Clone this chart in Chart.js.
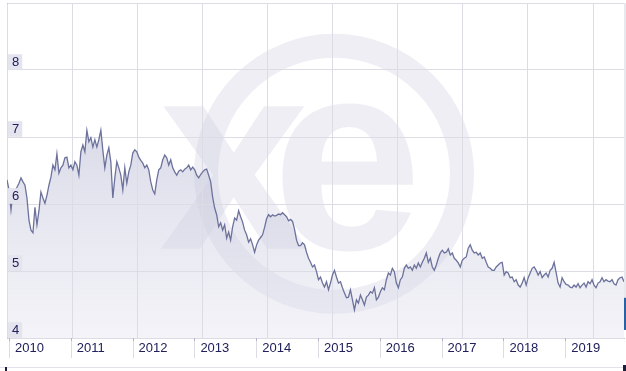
<!DOCTYPE html>
<html>
<head>
<meta charset="utf-8">
<script src="https://cdn.jsdelivr.net/npm/chart.js@4.4.1/dist/chart.umd.min.js"></script>
<style>
  html, body { margin: 0; padding: 0; background: #fff; }
  #wrap { width: 626px; height: 371px; position: relative; }
</style>
</head>
<body>
<div id="wrap"><canvas id="rateChart"></canvas></div>
<script>
// rate samples, roughly every 12 days from mid Dec 2009 to mid Dec 2019
const rates = [
    6.36, 6.21, 5.91, 6.18, 6.20, 6.25, 6.31, 6.39, 6.33, 6.28,
    6.09, 5.76, 5.61, 5.57, 5.95, 5.69, 5.90, 6.18, 6.09, 6.01,
    6.13, 6.28, 6.40, 6.58, 6.51, 6.75, 6.46, 6.54, 6.58, 6.69,
    6.70, 6.54, 6.58, 6.51, 6.63, 6.58, 6.43, 6.78, 6.88, 6.78,
    7.10, 6.93, 6.99, 6.85, 6.96, 6.85, 6.96, 7.10, 6.80, 6.54,
    6.73, 6.84, 6.63, 6.09, 6.39, 6.63, 6.54, 6.43, 6.21, 6.54,
    6.31, 6.48, 6.58, 6.76, 6.81, 6.78, 6.70, 6.65, 6.61, 6.54,
    6.58, 6.51, 6.33, 6.21, 6.15, 6.36, 6.51, 6.54, 6.66, 6.73,
    6.69, 6.58, 6.66, 6.54, 6.48, 6.43, 6.49, 6.51, 6.48, 6.52,
    6.54, 6.58, 6.51, 6.55, 6.51, 6.43, 6.39, 6.44, 6.48, 6.51,
    6.52, 6.43, 6.33, 6.10, 5.94, 5.84, 5.66, 5.72, 5.61, 5.69,
    5.49, 5.58, 5.46, 5.66, 5.79, 5.76, 5.90, 5.81, 5.73, 5.61,
    5.54, 5.43, 5.48, 5.39, 5.28, 5.39, 5.46, 5.50, 5.54, 5.65,
    5.78, 5.84, 5.81, 5.84, 5.82, 5.83, 5.85, 5.84, 5.87, 5.84,
    5.81, 5.75, 5.77, 5.74, 5.62, 5.46, 5.38, 5.38, 5.42, 5.39,
    5.28, 5.19, 5.13, 5.06, 5.09, 4.99, 4.87, 4.91, 4.82, 4.76,
    4.84, 4.72, 4.82, 4.94, 5.01, 4.91, 4.82, 4.84, 4.75, 4.67,
    4.60, 4.61, 4.72, 4.57, 4.42, 4.57, 4.52, 4.64, 4.57, 4.49,
    4.61, 4.64, 4.69, 4.67, 4.75, 4.57, 4.61, 4.69, 4.75, 4.72,
    4.87, 4.97, 4.94, 5.04, 4.99, 4.82, 4.75, 4.87, 4.91, 5.04,
    5.09, 5.04, 5.06, 5.01, 5.09, 5.04, 5.12, 5.06, 5.13, 5.19,
    5.27, 5.13, 5.19, 5.06, 5.01, 5.09, 5.19, 5.27, 5.31, 5.27,
    5.28, 5.33, 5.24, 5.27, 5.19, 5.16, 5.12, 5.06, 5.16, 5.19,
    5.21, 5.34, 5.39, 5.31, 5.27, 5.28, 5.24, 5.27, 5.19, 5.21,
    5.13, 5.06, 5.04, 5.01, 5.01, 5.06, 5.09, 5.12, 5.13, 4.94,
    4.99, 4.97, 4.90, 4.91, 4.84, 4.87, 4.79, 4.76, 4.82, 4.90,
    4.79, 4.90, 4.97, 5.04, 5.06, 5.01, 4.94, 4.99, 4.90, 4.94,
    4.97, 4.91, 5.01, 5.04, 5.13, 4.98, 4.82, 4.76, 4.90, 4.84,
    4.80, 4.79, 4.76, 4.75, 4.79, 4.76, 4.81, 4.75, 4.79, 4.82,
    4.76, 4.84, 4.81, 4.87, 4.79, 4.75, 4.82, 4.84, 4.90, 4.84,
    4.87, 4.85, 4.84, 4.87, 4.81, 4.79, 4.87, 4.90, 4.91, 4.84
];

const firstDate = 2009.968;   // decimal year of first sample
const lastDate = 2019.951;    // decimal year of last sample
const yearTicks = [2010, 2011, 2012, 2013, 2014, 2015, 2016, 2017, 2018, 2019];
const rateTicks = [4, 5, 6, 7, 8, 9];
const gridStep = 1.0535;      // vertical guide lines are not tied to years

const step = (lastDate - firstDate) / (rates.length - 1);
const points = rates.map((v, i) => ({ x: firstDate + i * step, y: v }));

const navy = '#20205c';
const gridColor = '#dcdce5';

Chart.defaults.font.family = '"Liberation Sans", Arial, sans-serif';
Chart.defaults.font.size = 13;

// watermark under the area, grid again over the area, year ticks, marker on the right
const decor = {
    id: 'decor',
    beforeDatasetsDraw(chart) {
        const { ctx, chartArea: a } = chart;
        const cx = a.left + a.width * 0.53;
        const cy = a.top + a.height * 0.51;
        ctx.save();
        ctx.strokeStyle = 'rgba(205,205,222,0.34)';
        ctx.lineWidth = 24;
        ctx.beginPath();
        ctx.arc(cx, cy, 128, 0, Math.PI * 2);
        ctx.stroke();
        ctx.fillStyle = 'rgba(205,205,222,0.34)';
        ctx.font = 'bold 270px "Liberation Sans", Arial, sans-serif';
        ctx.textBaseline = 'alphabetic';
        ctx.fillText('x', cx - 175, cy + 75);
        ctx.fillText('e', cx - 62, cy + 75);
        ctx.restore();
    },
    beforeDatasetDraw(chart) {
        chart.scales.x2.drawGrid(chart.chartArea);
        chart.scales.y.drawGrid(chart.chartArea);
    },
    afterDraw(chart) {
        const { ctx, chartArea: a, scales: { x, y } } = chart;
        ctx.save();
        yearTicks.forEach(yr => {
            const px = Math.round(x.getPixelForValue(yr)) + 0.5;
            ctx.strokeStyle = gridColor;
            ctx.beginPath();
            ctx.moveTo(px, a.bottom);
            ctx.lineTo(px, a.bottom + 20);
            ctx.stroke();
            ctx.strokeStyle = '#b4b5cb';
            ctx.beginPath();
            ctx.moveTo(px, a.bottom);
            ctx.lineTo(px, a.bottom + 3);
            ctx.stroke();
        });
        const top = y.getPixelForValue(4.6);
        ctx.fillStyle = '#e8e8ef';
        ctx.fillRect(a.right, a.top, 2, top - a.top);
        ctx.fillStyle = '#2a62a6';
        ctx.fillRect(a.right, top, 2, y.getPixelForValue(4.12) - top);
        ctx.fillStyle = '#e2e2ea';
        ctx.fillRect(0, chart.height - 4, chart.width, 1);
        ctx.fillStyle = '#1c1c3c';
        ctx.fillRect(5, chart.height - 4, 2, 4);
        ctx.fillRect(chart.width - 3, chart.height - 6, 3, 6);
        ctx.restore();
    }
};

new Chart(document.getElementById('rateChart'), {
    type: 'line',
    data: {
        datasets: [{
            data: points,
            borderColor: '#6c729c',
            borderWidth: 1.3,
            pointRadius: 0,
            tension: 0,
            fill: 'start',
            backgroundColor: (c) => {
                const a = c.chart.chartArea;
                if (!a) return 'rgba(200,202,222,0.5)';
                const g = c.chart.ctx.createLinearGradient(0, a.top + 120, 0, a.bottom);
                g.addColorStop(0, 'rgba(190,192,215,0.58)');
                g.addColorStop(1, 'rgba(225,225,238,0.40)');
                return g;
            }
        }]
    },
    plugins: [decor],
    options: {
        responsive: true,
        maintainAspectRatio: false,
        animation: false,
        layout: { autoPadding: false, padding: { left: 7, right: 2, top: 3, bottom: 0 } },
        plugins: { legend: { display: false }, tooltip: { enabled: false } },
        scales: {
            x: {
                type: 'linear',
                min: firstDate,
                max: lastDate,
                afterBuildTicks: s => { s.ticks = yearTicks.map(v => ({ value: v })); },
                afterFit: s => { s.height = 33; s.paddingLeft = 0; s.paddingRight = 0; },
                grid: { drawOnChartArea: false, drawTicks: false },
                border: { color: '#c6c7d8' },
                ticks: {
                    autoSkip: false, maxRotation: 0, padding: 3, align: 'start', labelOffset: 6,
                    color: navy, callback: v => String(v)
                }
            },
            x2: {
                type: 'linear',
                position: 'top',
                min: firstDate,
                max: lastDate,
                afterBuildTicks: s => {
                    const t = [];
                    for (let v = firstDate; v < lastDate; v += gridStep) t.push({ value: v });
                    s.ticks = t;
                },
                afterFit: s => { s.height = 0; s.paddingLeft = 0; s.paddingRight = 0; },
                grid: { color: gridColor, drawTicks: false },
                border: { color: '#d6d6e0' },
                ticks: { display: false }
            },
            y: {
                min: 4,
                max: 9,
                afterBuildTicks: s => { s.ticks = rateTicks.map(v => ({ value: v })); },
                afterFit: s => { s.width = 0; s.paddingTop = 0; s.paddingBottom = 0; },
                grid: { color: gridColor, drawTicks: false },
                border: { color: '#c6c7d8' },
                ticks: {
                    mirror: true, padding: 5, labelOffset: -8, z: 1,
                    color: navy,
                    showLabelBackdrop: true,
                    backdropColor: c => c.tick.value === 9 ? 'rgba(0,0,0,0)' : '#e4e4ee',
                    backdropPadding: { left: 4, right: 3, top: 0, bottom: 0 },
                    callback: v => v === 9 ? '' : String(v)
                }
            }
        }
    }
});
</script>
</body>
</html>
